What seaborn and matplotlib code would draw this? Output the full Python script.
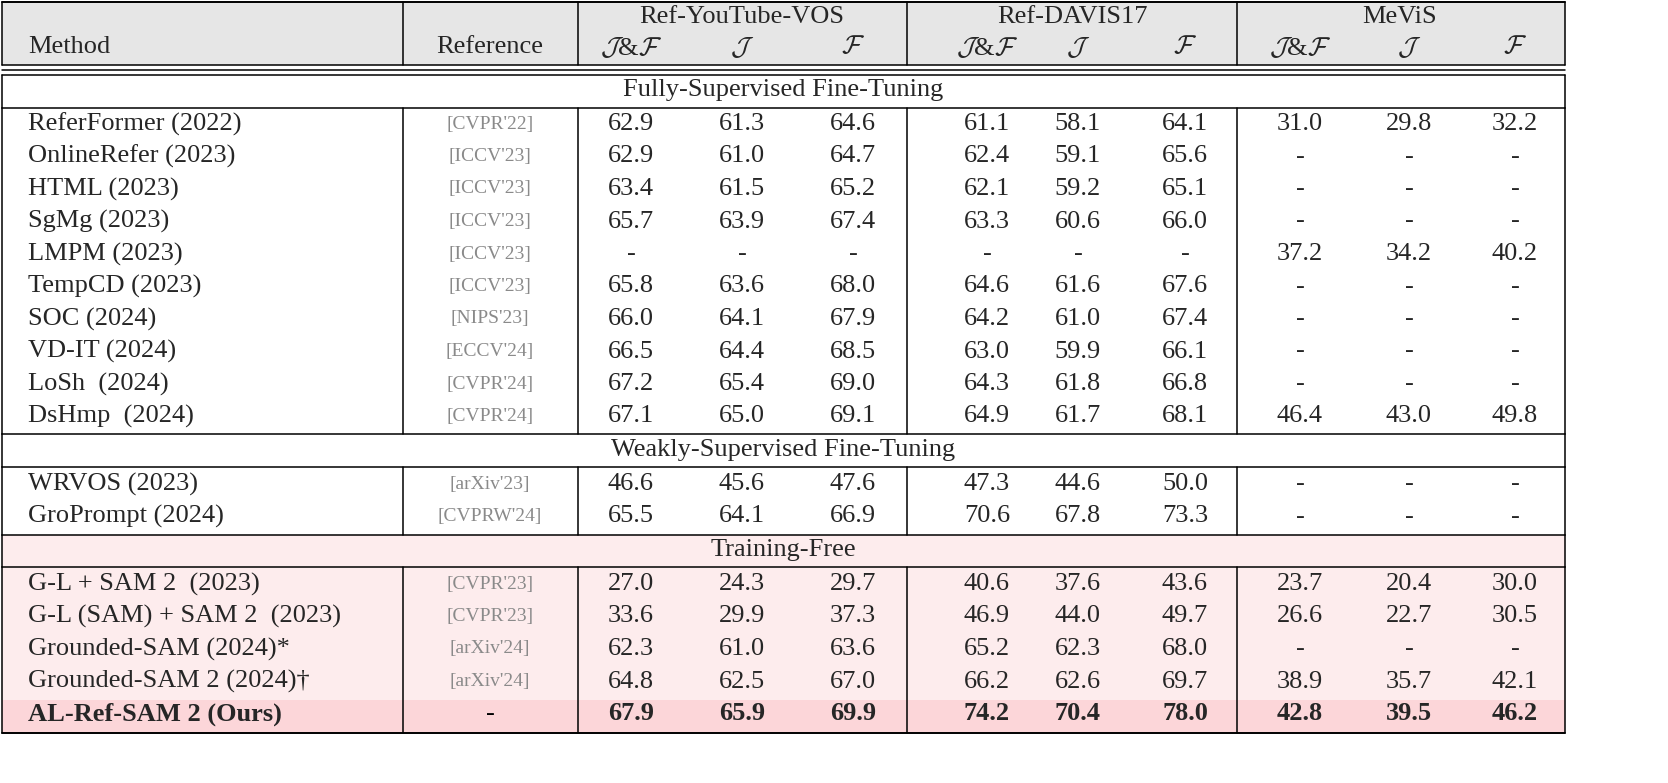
import matplotlib.pyplot as plt
import seaborn as sns

sns.set_theme(style='white')
plt.rcParams['font.family'] = ['Liberation Serif', 'DejaVu Serif']
plt.rcParams['mathtext.fontset'] = 'cm'

methods_fs = ['ReferFormer (2022)', 'OnlineRefer (2023)', 'HTML (2023)', 'SgMg (2023)', 'LMPM (2023)',
              'TempCD (2023)', 'SOC (2024)', 'VD-IT (2024)', 'LoSh  (2024)', 'DsHmp  (2024)']
refs_fs = ["[CVPR'22]", "[ICCV'23]", "[ICCV'23]", "[ICCV'23]", "[ICCV'23]",
           "[ICCV'23]", "[NIPS'23]", "[ECCV'24]", "[CVPR'24]", "[CVPR'24]"]
vals_fs = [
    ['62.9', '61.3', '64.6', '61.1', '58.1', '64.1', '31.0', '29.8', '32.2'],
    ['62.9', '61.0', '64.7', '62.4', '59.1', '65.6', '-', '-', '-'],
    ['63.4', '61.5', '65.2', '62.1', '59.2', '65.1', '-', '-', '-'],
    ['65.7', '63.9', '67.4', '63.3', '60.6', '66.0', '-', '-', '-'],
    ['-', '-', '-', '-', '-', '-', '37.2', '34.2', '40.2'],
    ['65.8', '63.6', '68.0', '64.6', '61.6', '67.6', '-', '-', '-'],
    ['66.0', '64.1', '67.9', '64.2', '61.0', '67.4', '-', '-', '-'],
    ['66.5', '64.4', '68.5', '63.0', '59.9', '66.1', '-', '-', '-'],
    ['67.2', '65.4', '69.0', '64.3', '61.8', '66.8', '-', '-', '-'],
    ['67.1', '65.0', '69.1', '64.9', '61.7', '68.1', '46.4', '43.0', '49.8'],
]
methods_ws = ['WRVOS (2023)', 'GroPrompt (2024)']
refs_ws = ["[arXiv'23]", "[CVPRW'24]"]
vals_ws = [
    ['46.6', '45.6', '47.6', '47.3', '44.6', '50.0', '-', '-', '-'],
    ['65.5', '64.1', '66.9', '70.6', '67.8', '73.3', '-', '-', '-'],
]
methods_tf = ['G-L + SAM 2  (2023)', 'G-L (SAM) + SAM 2  (2023)', 'Grounded-SAM (2024)*',
              'Grounded-SAM 2 (2024)\u2020', 'AL-Ref-SAM 2 (Ours)']
refs_tf = ["[CVPR'23]", "[CVPR'23]", "[arXiv'24]", "[arXiv'24]", '-']
vals_tf = [
    ['27.0', '24.3', '29.7', '40.6', '37.6', '43.6', '23.7', '20.4', '30.0'],
    ['33.6', '29.9', '37.3', '46.9', '44.0', '49.7', '26.6', '22.7', '30.5'],
    ['62.3', '61.0', '63.6', '65.2', '62.3', '68.0', '-', '-', '-'],
    ['64.8', '62.5', '67.0', '66.2', '62.6', '69.7', '38.9', '35.7', '42.1'],
    ['67.9', '65.9', '69.9', '74.2', '70.4', '78.0', '42.8', '39.5', '46.2'],
]
datasets = ['Ref-YouTube-VOS', 'Ref-DAVIS17', 'MeViS']
metrics = [r'$\mathcal{J}$&$\mathcal{F}$', r'$\mathcal{J}$', r'$\mathcal{F}$']
sections = ['Fully-Supervised Fine-Tuning', 'Weakly-Supervised Fine-Tuning', 'Training-Free']

fig = plt.figure(figsize=(16.68, 7.83), dpi=100)
ax = fig.add_axes([0, 0, 1, 1])
ax.set_xlim(0, 1668)
ax.set_ylim(783, 0)
ax.axis('off')

L, R = 2, 1565
vlines = [403, 578, 907, 1237]
col_x = [631, 742, 853, 987, 1078, 1185, 1300, 1409, 1515]
grp_x = [742, 1072, 1400]
FS = 19
lw = 1.1

def hl(y, w=lw):
    ax.plot([L, R], [y, y], color='black', lw=w)

def vl(y0, y1, xs):
    for x in xs:
        ax.plot([x, x], [y0, y1], color='black', lw=lw)

# header
ax.fill_between([L, R], 2, 65, color='#e6e6e6', lw=0)
hl(2, 1.4)
hl(65)
hl(70)
hl(75)
vl(2, 65, [L] + vlines + [R])
ax.text(28, 47, 'Method', fontsize=FS, va='center')
ax.text(490, 47, 'Reference', fontsize=FS, va='center', ha='center')
for gx, d in zip(grp_x, datasets):
    ax.text(gx, 17, d, fontsize=FS, va='center', ha='center')
for i, x in enumerate(col_x):
    ax.text(x, 47, metrics[i % 3], fontsize=FS, va='center', ha='center')

def section(title, yc, ybot):
    ax.text(783, yc, title, fontsize=FS, va='center', ha='center')
    hl(ybot)

def rows(methods, refs, vals, ys, bold_last=False):
    for k, (m, r, v, y) in enumerate(zip(methods, refs, vals, ys)):
        bold = bold_last and k == len(methods) - 1
        w = 'bold' if bold else 'normal'
        ax.text(28, y, m, fontsize=FS, va='center', weight=w)
        ax.text(490, y, r, fontsize=14 if r != '-' else FS, va='center', ha='center',
                color='#8a8a8a' if r != '-' else 'black')
        for x, s in zip(col_x, v):
            ax.text(x, y, s, fontsize=FS, va='center', ha='center', weight=w)

step = 32.5
ax.fill_between([L, R], 535, 700, color='#fdeced', lw=0)
ax.fill_between([L, R], 700, 733, color='#fcd6d9', lw=0)

section(sections[0], 90, 108)
ys = [124 + i * step for i in range(len(methods_fs))]
rows(methods_fs, refs_fs, vals_fs, ys)
vl(108, 434, [L] + vlines + [R])
vl(75, 108, [L, R])
hl(434)

section(sections[1], 450, 467)
ys = [484 + i * step for i in range(len(methods_ws))]
rows(methods_ws, refs_ws, vals_ws, ys)
vl(434, 467, [L, R])
vl(467, 535, [L] + vlines + [R])
hl(535)

section(sections[2], 550, 567)
ys = [584 + i * step for i in range(len(methods_tf))]
rows(methods_tf, refs_tf, vals_tf, ys, bold_last=True)
vl(535, 567, [L, R])
vl(567, 733, [L] + vlines + [R])
hl(733, 1.4)

fig.savefig('out.png', dpi=100)
